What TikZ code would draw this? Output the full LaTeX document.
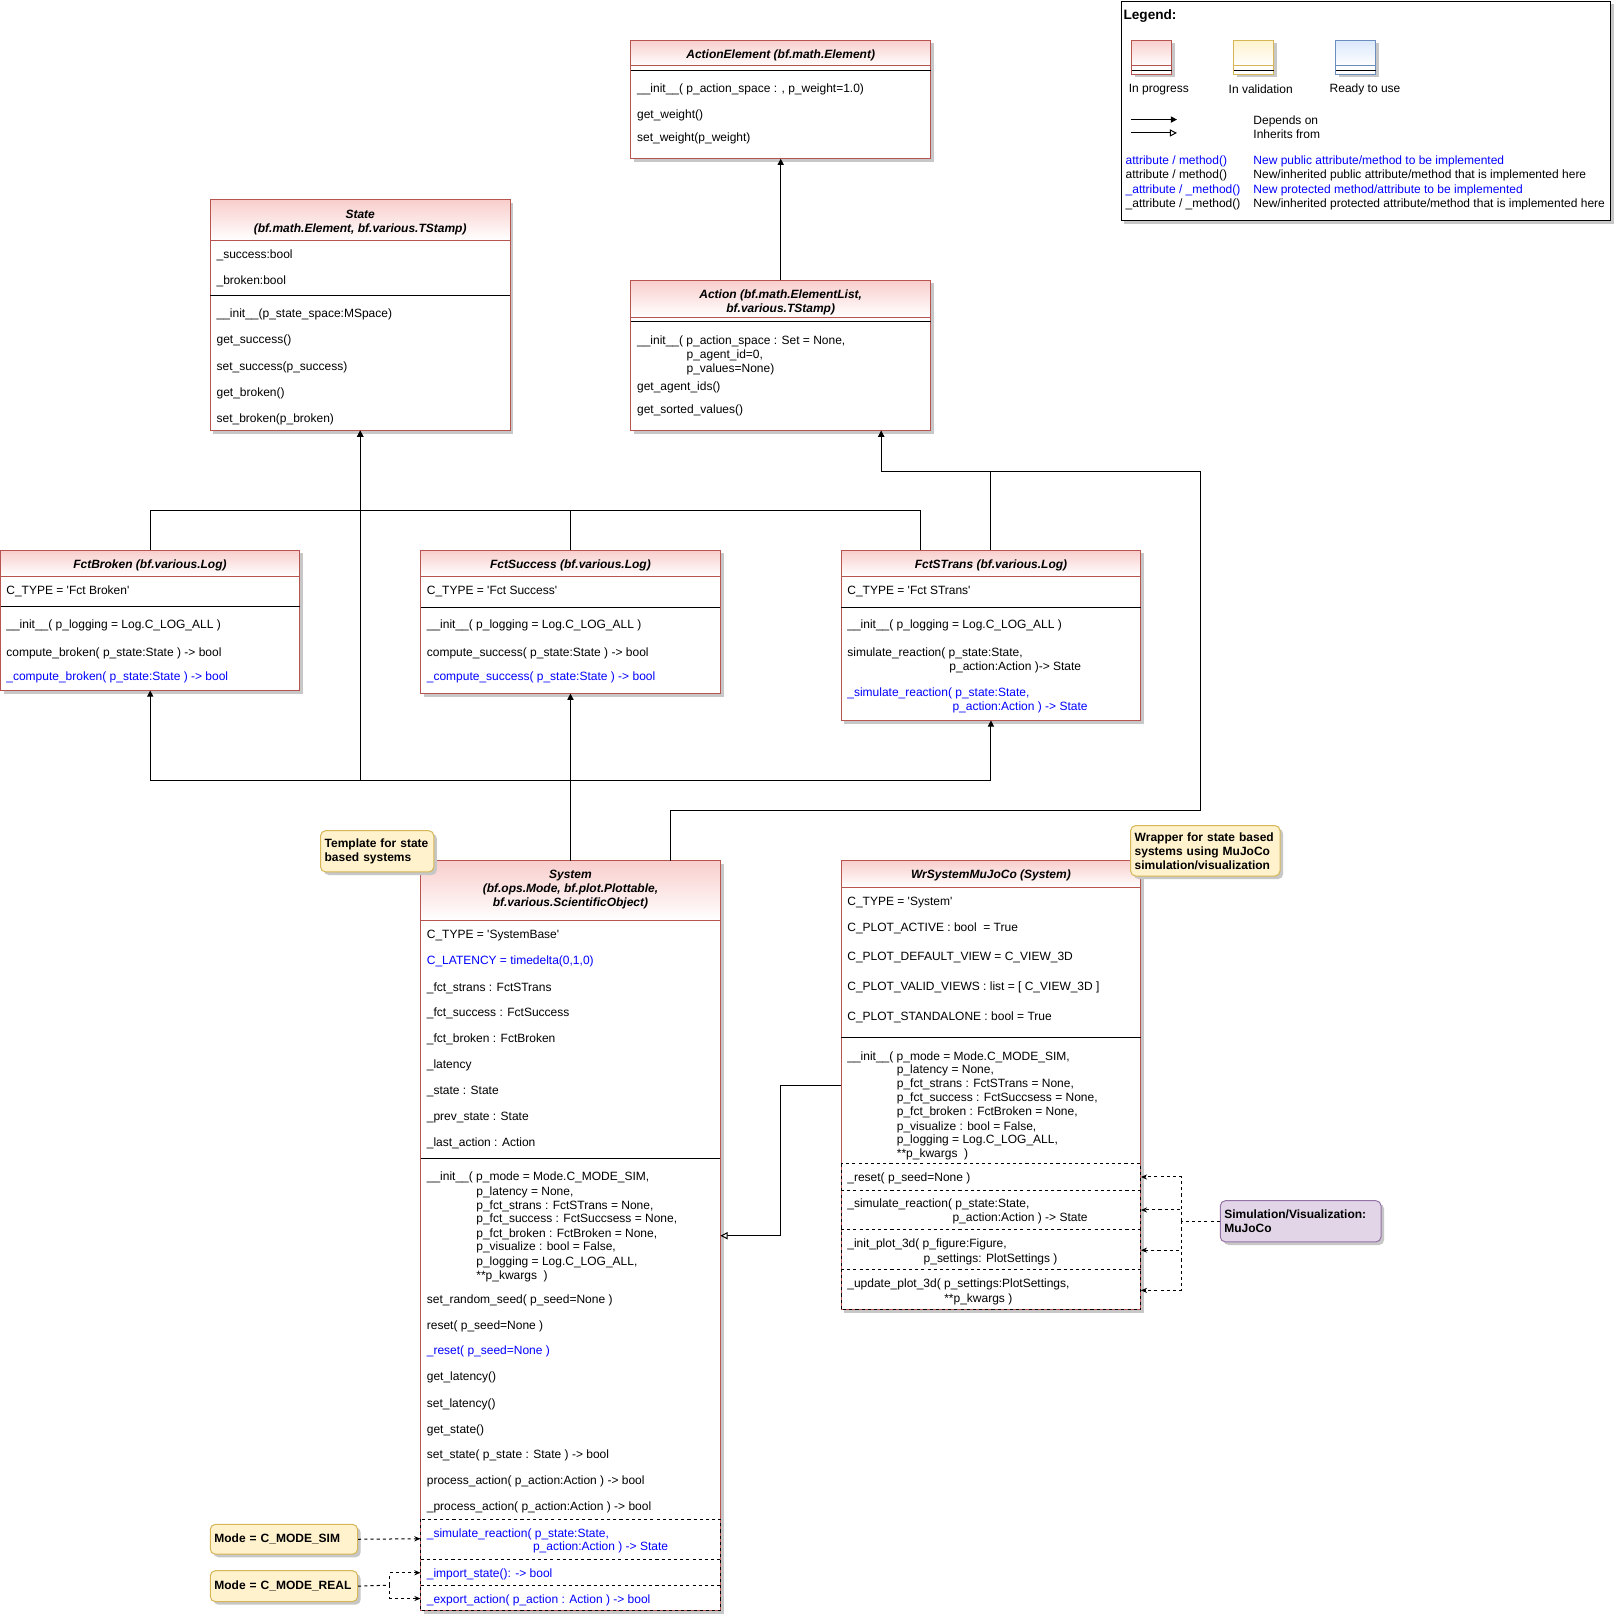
\documentclass[tikz,border=0pt]{standalone}
\usepackage{fontspec}
\setmainfont{Liberation Sans}[Ligatures=TeXOff]
\usetikzlibrary{arrows.meta}
\definecolor{redB}{HTML}{B85450}
\definecolor{redF}{HTML}{F8CECC}
\definecolor{yelB}{HTML}{D6B656}
\definecolor{yelF}{HTML}{FFF2CC}
\definecolor{bluB}{HTML}{6C8EBF}
\definecolor{bluF}{HTML}{DAE8FC}
\definecolor{purB}{HTML}{9673A6}
\definecolor{purF}{HTML}{E1D5E7}
\definecolor{tblue}{HTML}{0000FF}
\newcommand\fs{\fontsize{11.64}{13.6}\selectfont}
\newcounter{tc}
\newcommand\mtxt[4][black]{\stepcounter{tc}\node[lt,text=#1] (t\arabic{tc}) at (#2,#3) {#4};}
\newcommand\clsbox[8]{%
 \fill[shd] ({#2+3},{#3+3}) rectangle ({#4+3},{#5+3});
 \node[inner sep=0pt,outer sep=0pt,fill=white,minimum width={#4-#2},minimum height={#5-#3}] (#1) at ({(#2+#4)/2},{(#3+#5)/2}) {};
 \shade[top color=#8,bottom color=white] (#2,#3) rectangle (#4,#6);
 \draw[#7,line width=0.97pt] (#2,#3) rectangle (#4,#5) (#2,#6) -- (#4,#6);
}
\tikzset{
 lt/.style={anchor=west,inner sep=0pt,font=\fs,yshift=-1.5pt},
 ttl/.style={inner sep=0pt,font=\fs\bfseries\itshape,align=center,yshift=-1.5pt},
 shd/.style={fill=black!22},
 sepl/.style={draw=black,line width=0.97pt},
 dsec/.style={draw=black,line width=0.97pt,dash pattern=on 3pt off 3pt},
 dep/.style={draw=black,line width=0.97pt,-{Triangle[length=6pt,width=6pt]}},
 inh/.style={draw=black,line width=0.97pt,-{Triangle[open,length=7pt,width=7pt,fill=white]}},
 dsh/.style={draw=black,line width=0.97pt,dash pattern=on 3pt off 3pt},
 dsharr/.style={dsh,-{Stealth[length=6pt,width=5pt]}},
 note/.style={rounded corners=5pt,line width=0.97pt,inner sep=4pt,align=left,font=\fs\bfseries,anchor=center},
}
\begin{document}
\begin{tikzpicture}[x=1pt,y=-1pt]
\useasboundingbox (0,0) rectangle (1566,1567);
\fill[white] (0,0) rectangle (1566,1567);

% ---------------- Legend ----------------
\fill[shd] (1091,4) rectangle (1566,217);
\node[draw=black,fill=white,line width=0.97pt,inner sep=0pt,outer sep=0pt,minimum width=475,minimum height=213] (leg) at (1325.5,107.5) {};
\node[anchor=west,inner sep=0pt,font=\fontsize{13.2}{15}\selectfont\bfseries] (legt) at (1090,15.5) {Legend:};
\clsbox{li1}{1098}{39}{1137}{72}{64}{redB}{redF}
\draw[sepl] (1098,68) -- (1137,68);
\clsbox{li2}{1197}{39}{1236}{72}{64}{yelB}{yelF}
\draw[sepl] (1197,68) -- (1236,68);
\clsbox{li3}{1296}{39}{1335}{72}{64}{bluB}{bluF}
\draw[sepl] (1296,68) -- (1335,68);
\mtxt{1095}{85}{In progress}
\mtxt{1192}{85}{In validation}
\mtxt{1290}{85}{Ready to use}
\coordinate (la1) at (1097,116); \coordinate (la2) at (1142,116);
\coordinate (lb1) at (1097,129); \coordinate (lb2) at (1142,129);
\draw[dep] (la1) -- (la2);
\draw[inh] (lb1) -- (lb2);
\mtxt{1216}{116}{Depends on}
\mtxt{1216}{129}{Inherits from}
\mtxt[tblue]{1092}{155}{attribute / method()}
\mtxt{1092}{169}{attribute / method()}
\mtxt[tblue]{1092}{183}{\_attribute / \_method()}
\mtxt{1092}{197}{\_attribute / \_method()}
\mtxt[tblue]{1216}{155}{New public attribute/method to be implemented}
\mtxt{1216}{169}{New/inherited public attribute/method that is implemented here}
\mtxt[tblue]{1216}{183}{New protected method/attribute to be implemented}
\mtxt{1216}{197}{New/inherited protected attribute/method that is implemented here}

% ---------------- ActionElement ----------------
\clsbox{ae}{612}{39}{903}{154}{64}{redB}{redF}
\draw[sepl] (612,68) -- (903,68);
\node[ttl] (aet) at (757.5,52) {ActionElement (bf.math.Element)};
\mtxt{618}{85}{\_\_init\_\_( p\_action\_space : , p\_weight=1.0)}
\mtxt{618}{110}{get\_weight()}
\mtxt{618}{133}{set\_weight(p\_weight)}

% ---------------- State ----------------
\clsbox{st}{204}{194}{495}{418}{233}{redB}{redF}
\node[ttl] (stt) at (349.5,214) {State\\(bf.math.Element, bf.various.TStamp)};
\mtxt{210}{246}{\_success:bool}
\mtxt{210}{271}{\_broken:bool}
\draw[sepl] (204,287) -- (495,287);
\mtxt{210}{304}{\_\_init\_\_(p\_state\_space:MSpace)}
\mtxt{210}{329}{get\_success()}
\mtxt{210}{355}{set\_success(p\_success)}
\mtxt{210}{380}{get\_broken()}
\mtxt{210}{405}{set\_broken(p\_broken)}

% ---------------- Action ----------------
\clsbox{ac}{612}{272}{903}{418}{308}{redB}{redF}
\draw[sepl] (612,312) -- (903,312);
\node[ttl] (act) at (757.5,291.5) {Action (bf.math.ElementList,\\bf.various.TStamp)};
\mtxt{618}{330}{\_\_init\_\_( p\_action\_space : Set = None,}
\mtxt{666}{343}{p\_agent\_id=0,}
\mtxt{666}{357}{p\_values=None)}
\mtxt{618}{374}{get\_agent\_ids()}
\mtxt{618}{397}{get\_sorted\_values()}

% ---------------- FctBroken ----------------
\clsbox{fb}{0.5}{534}{291}{670}{559}{redB}{redF}
\node[ttl] (fbt) at (145.5,547) {FctBroken (bf.various.Log)};
\mtxt{6}{572}{C\_TYPE = 'Fct Broken'}
\draw[sepl] (0.5,588) -- (291,588);
\mtxt{6}{605}{\_\_init\_\_( p\_logging = Log.C\_LOG\_ALL )}
\mtxt{6}{632}{compute\_broken( p\_state:State ) -> bool}
\mtxt[tblue]{6}{656}{\_compute\_broken( p\_state:State ) -> bool}

% ---------------- FctSuccess ----------------
\clsbox{fs}{408}{534}{699}{673}{559}{redB}{redF}
\node[ttl] (fst) at (553.5,547) {FctSuccess (bf.various.Log)};
\mtxt{414}{572}{C\_TYPE = 'Fct Success'}
\draw[sepl] (408,589) -- (699,589);
\mtxt{414}{605}{\_\_init\_\_( p\_logging = Log.C\_LOG\_ALL )}
\mtxt{414}{632}{compute\_success( p\_state:State ) -> bool}
\mtxt[tblue]{414}{656}{\_compute\_success( p\_state:State ) -> bool}

% ---------------- FctSTrans ----------------
\clsbox{ft}{816}{534}{1107}{699}{559}{redB}{redF}
\node[ttl] (ftt) at (961.5,547) {FctSTrans (bf.various.Log)};
\mtxt{822}{572}{C\_TYPE = 'Fct STrans'}
\draw[sepl] (816,589) -- (1107,589);
\mtxt{822}{605}{\_\_init\_\_( p\_logging = Log.C\_LOG\_ALL )}
\mtxt{822}{632}{simulate\_reaction( p\_state:State,}
\mtxt{921}{646}{p\_action:Action )-> State}
\mtxt[tblue]{822}{671}{\_simulate\_reaction( p\_state:State,}
\mtxt[tblue]{924}{685}{p\_action:Action ) -> State}

% ---------------- System ----------------
\clsbox{sys}{408}{835}{699}{1563}{893}{redB}{redF}
\node[ttl] (syst) at (553.5,861.5) {System\\(bf.ops.Mode, bf.plot.Plottable,\\bf.various.ScientificObject)};
\mtxt{414}{906}{C\_TYPE = 'SystemBase'}
\mtxt[tblue]{414}{931}{C\_LATENCY = timedelta(0,1,0)}
\mtxt{414}{957}{\_fct\_strans : FctSTrans}
\mtxt{414}{982}{\_fct\_success : FctSuccess}
\mtxt{414}{1007}{\_fct\_broken : FctBroken}
\mtxt{414}{1032}{\_latency}
\mtxt{414}{1058}{\_state : State}
\mtxt{414}{1083}{\_prev\_state : State}
\mtxt{414}{1108}{\_last\_action : Action}
\draw[sepl] (408,1124) -- (699,1124);
\mtxt{414}{1141}{\_\_init\_\_( p\_mode = Mode.C\_MODE\_SIM,}
\mtxt{462}{1155}{p\_latency = None,}
\mtxt{462}{1169}{p\_fct\_strans : FctSTrans = None,}
\mtxt{462}{1182}{p\_fct\_success : FctSuccsess = None,}
\mtxt{462}{1196}{p\_fct\_broken : FctBroken = None,}
\mtxt{462}{1209}{p\_visualize : bool = False,}
\mtxt{462}{1223}{p\_logging = Log.C\_LOG\_ALL,}
\mtxt{462}{1237}{**p\_kwargs\ \ )}
\mtxt{414}{1260}{set\_random\_seed( p\_seed=None )}
\mtxt{414}{1285}{reset( p\_seed=None )}
\mtxt[tblue]{414}{1310}{\_reset( p\_seed=None )}
\mtxt{414}{1335}{get\_latency()}
\mtxt{414}{1361}{set\_latency()}
\mtxt{414}{1386}{get\_state()}
\mtxt{414}{1411}{set\_state( p\_state : State ) -> bool}
\mtxt{414}{1436}{process\_action( p\_action:Action ) -> bool}
\mtxt{414}{1461}{\_process\_action( p\_action:Action ) -> bool}
\draw[dsec] (408,1474) rectangle (699,1563);
\draw[dsec] (408,1513) -- (699,1513);
\draw[dsec] (408,1538) -- (699,1538);
\mtxt[tblue]{414}{1487}{\_simulate\_reaction( p\_state:State,}
\mtxt[tblue]{517}{1500}{p\_action:Action ) -> State}
\mtxt[tblue]{414}{1526}{\_import\_state(): -> bool}
\mtxt[tblue]{414}{1551}{\_export\_action( p\_action : Action ) -> bool}

% ---------------- WrSystemMuJoCo ----------------
\clsbox{wr}{816}{835}{1107}{1271}{861}{redB}{redF}
\node[ttl] (wrt) at (961.5,848) {WrSystemMuJoCo (System)};
\mtxt{822}{874}{C\_TYPE = 'System'}
\mtxt{822}{899}{C\_PLOT\_ACTIVE : bool\ \ = True}
\mtxt{822}{928}{C\_PLOT\_DEFAULT\_VIEW = C\_VIEW\_3D}
\mtxt{822}{957}{C\_PLOT\_VALID\_VIEWS : list = [ C\_VIEW\_3D ]}
\mtxt{822}{986}{C\_PLOT\_STANDALONE : bool = True}
\draw[sepl] (816,1007) -- (1107,1007);
\mtxt{822}{1024}{\_\_init\_\_( p\_mode = Mode.C\_MODE\_SIM,}
\mtxt{870}{1037}{p\_latency = None,}
\mtxt{870}{1051}{p\_fct\_strans : FctSTrans = None,}
\mtxt{870}{1064}{p\_fct\_success : FctSuccsess = None,}
\mtxt{870}{1078}{p\_fct\_broken : FctBroken = None,}
\mtxt{870}{1092}{p\_visualize : bool = False,}
\mtxt{870}{1105}{p\_logging = Log.C\_LOG\_ALL,}
\mtxt{870}{1119}{**p\_kwargs\ \ )}
\draw[dsec] (816,1129) rectangle (1107,1271);
\draw[dsec] (816,1155) -- (1107,1155);
\draw[dsec] (816,1193) -- (1107,1193);
\draw[dsec] (816,1232) -- (1107,1232);
\mtxt{822}{1142}{\_reset( p\_seed=None )}
\mtxt{822}{1167}{\_simulate\_reaction( p\_state:State,}
\mtxt{924}{1181}{p\_action:Action ) -> State}
\mtxt{822}{1206}{\_init\_plot\_3d( p\_figure:Figure,}
\mtxt{896}{1220}{p\_settings: PlotSettings )}
\mtxt{822}{1245}{\_update\_plot\_3d( p\_settings:PlotSettings,}
\mtxt{916}{1259}{**p\_kwargs )}

% ---------------- Notes ----------------
\fill[shd,rounded corners=5pt] (314,809) rectangle (424,849);
\node[note,draw=yelB,fill=yelF,minimum width=110,minimum height=40,text width=102] (n1) at (366,826) {Template for state\\based systems};
\fill[shd,rounded corners=5pt] (1100,804) rectangle (1245,853);
\node[note,draw=yelB,fill=yelF,minimum width=145,minimum height=49,text width=137] (n2) at (1169.5,825.5) {Wrapper for state based\\systems using MuJoCo\\simulation/visualization};
\fill[shd,rounded corners=5pt] (1187,1168) rectangle (1343,1208);
\node[note,draw=purB,fill=purF,minimum width=156,minimum height=40,text width=148] (nm) at (1262,1185) {Simulation/Visualization:\\MuJoCo};
\fill[shd,rounded corners=5pt] (207,1482) rectangle (350,1511);
\node[note,draw=yelB,fill=yelF,minimum width=143,minimum height=29,text width=135] (msim) at (275.5,1493.5) {Mode = C\_MODE\_SIM};
\fill[shd,rounded corners=5pt] (207,1527) rectangle (350,1557);
\node[note,draw=yelB,fill=yelF,minimum width=143,minimum height=30,text width=135] (mreal) at (275.5,1539) {Mode = C\_MODE\_REAL};

% ---------------- Connectors ----------------
\draw[dep] (ac.north) -- (ae.south);
\coordinate (jS) at (349.5,495);
\coordinate (ftS) at (893,534);
\draw[dep] (fb.north) |- (jS) -- (st.south);
\draw[dep] (fs.north) |- (jS) -- (st.south);
\draw[dep] (ftS) |- (jS) -- (st.south);
\coordinate (aIn) at (855,418);
\coordinate (jA) at (855,457);
\draw[dep] (ft.north) |- (jA) -- (aIn);
\coordinate (jSys) at (553.5,757);
\draw[dep] (sys.north) -- (fs.south);
\draw[dep] (sys.north) -- (jSys) -| (fb.south);
\draw[dep] (jSys) -| (ft.south);
\draw[dep] (jSys) -| (st.south);
\coordinate (sysA) at (651,835);
\coordinate (sA1) at (651,786);
\coordinate (sA2) at (1165,786);
\coordinate (sA3) at (1165,457);
\draw[dep] (sysA) -- (sA1) -- (sA2) -- (sA3) -| (aIn);
\coordinate (wi) at (757,1053);
\draw[inh] (wr.west) -- (wi) |- (sys.east);
% MuJoCo dashed
\coordinate (jM) at (1146,1185);
\coordinate (w1) at (1107,1142);
\coordinate (w2) at (1107,1174);
\coordinate (w3) at (1107,1213);
\coordinate (w4) at (1107,1252);
\draw[dsh] (nm.west) -- (jM);
\draw[dsharr] (jM) |- (w1);
\draw[dsharr] (jM) |- (w2);
\draw[dsharr] (jM) |- (w3);
\draw[dsharr] (jM) |- (w4);
% Modes
\coordinate (s1) at (408,1493);
\coordinate (s2) at (408,1526);
\coordinate (s3) at (408,1551);
\coordinate (jR) at (378,1538);
\draw[dsharr] (msim.east) -- (s1);
\draw[dsh] (mreal.east) -- (jR);
\draw[dsharr] (jR) |- (s2);
\draw[dsharr] (jR) |- (s3);
\end{tikzpicture}
\end{document}
